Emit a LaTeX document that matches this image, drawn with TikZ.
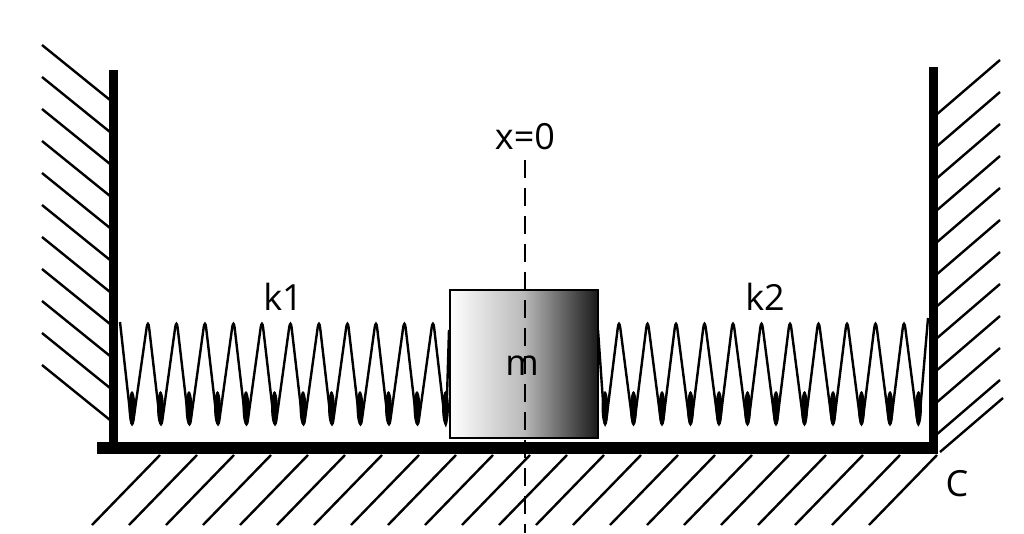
\documentclass[tikz,border=0pt]{standalone}
\usepackage{fontspec}
\setmainfont{Open Sans}
\begin{document}
\begin{tikzpicture}[x=1pt,y=-1pt,
  wall/.style={line width=9pt},
  hatch/.style={line width=2.4pt},
  coil/.style={line width=2.4pt,rounded corners=10pt},
  lbl/.style={font=\fontsize{36}{36}\selectfont}]
\useasboundingbox (0,0) rectangle (1024,533);
% hatching left
\foreach \y in {100,132,...,440} \draw[hatch] (110,\y) -- (42,\y-55);
% hatching right
\foreach \y in {115,147,...,440} \draw[hatch] (936,\y) -- (1000,\y-55);
\draw[hatch] (940,452) -- (1003,398);
% floor hatching
\foreach \x in {160,197,...,940} \draw[hatch] (\x,455) -- (\x-68,525);
% walls & floor
\draw[wall] (113,70) -- (113,448);
\draw[wall] (933,67) -- (933,448);
\draw[line width=12pt] (97,448) -- (938,448);
% springs
\draw[coil] (120,322) -- (132,430)
  \foreach \i in {0,...,10} { -- ({148+28.5*\i},318) -- ({161+28.5*\i},430) } -- (449,330);
\foreach \i in {0,...,11} \fill ({132+28.5*\i},408) ellipse (3.4 and 17);
\draw[coil] (598,330) -- (605,430)
  \foreach \i in {0,...,10} { -- ({619+28.5*\i},318) -- ({633.5+28.5*\i},430) } -- (928,318);
\foreach \i in {0,...,11} \fill ({605+28.5*\i},408) ellipse (3.4 and 17);
% block
\node[draw,line width=1.8pt,minimum width=148pt,minimum height=148pt,inner sep=0pt,
  left color=white,right color=black!90,middle color=gray!55] (m) at (524,364) {};
% dashed axis
\coordinate (top) at (525,160);
\coordinate (bot) at (525,533);
\draw[line width=1.3pt,dash pattern=on 18pt off 10pt] (top) -- (bot);
\node[lbl] (ml) at (522,366) {m};
\node[lbl] (x0) at (525,137) {x=0};
\node[lbl] (k1) at (283,297) {k1};
\node[lbl] (k2) at (765,297) {k2};
\node[lbl] (c) at (957,484) {C};
\end{tikzpicture}
\end{document}
